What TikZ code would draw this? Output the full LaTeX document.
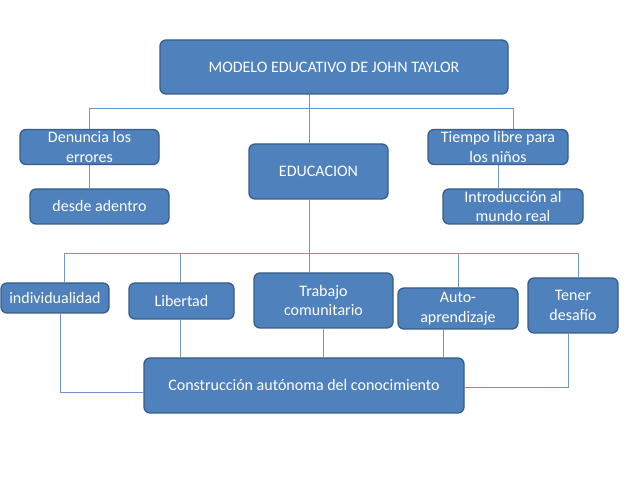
\documentclass[tikz,border=0pt]{standalone}
\usepackage{fontspec}
\setmainfont{Carlito}
\definecolor{boxfill}{HTML}{4F81BD}
\definecolor{boxline}{HTML}{385D8A}
\definecolor{connc}{HTML}{7096C8}
\pgfdeclarelayer{bg}
\pgfsetlayers{bg,main}
\begin{document}
\begin{tikzpicture}[x=1pt,y=-1pt,
  box/.style={draw=boxline, fill=boxfill, line width=1.3pt, rounded corners=6pt,
    text=white, font=\fontsize{16}{19.5}\selectfont, align=center, inner sep=0pt},
  conn/.style={draw=connc, line width=1pt}]
\useasboundingbox (0,0) rectangle (638,478);
% nodes
\node[box, minimum width=348pt, minimum height=54pt] (mod) at (334,67) {MODELO EDUCATIVO DE JOHN TAYLOR};
\node[box, minimum width=139pt, minimum height=35pt] (den) at (89.5,147) {Denuncia los\\errores};
\node[box, minimum width=139pt, minimum height=35pt] (des) at (99.5,206.5) {desde adentro};
\node[box, minimum width=139pt, minimum height=55pt] (edu) at (318.5,171.5) {EDUCACION};
\node[box, minimum width=140pt, minimum height=35pt] (tie) at (498,147) {Tiempo libre para\\los niños};
\node[box, minimum width=140pt, minimum height=35pt] (intro) at (513,206.5) {Introducción al\\mundo real};
\node[box, minimum width=108pt, minimum height=30pt] (ind) at (55,298) {individualidad};
\node[box, minimum width=105pt, minimum height=36pt] (lib) at (181.5,301) {Libertad};
\node[box, minimum width=139pt, minimum height=55pt] (tra) at (323.5,300.5) {Trabajo\\comunitario};
\node[box, minimum width=120pt, minimum height=41pt] (aut) at (458,308.5) {Auto-\\aprendizaje};
\node[box, minimum width=90pt, minimum height=55pt] (ten) at (573,305.5) {Tener\\desafío};
\node[box, minimum width=320pt, minimum height=55pt] (con) at (304,385.5) {Construcción autónoma del conocimiento};
% bus / bend coordinates
\coordinate (tl) at (89,109);
\coordinate (tm) at (309,109);
\coordinate (tr) at (513,109);
\coordinate (bl) at (64,254);
\coordinate (b2) at (180,254);
\coordinate (bm) at (309,254);
\coordinate (b4) at (458,254);
\coordinate (br) at (578,254);
\coordinate (c1) at (60,393);
\coordinate (c2) at (180,340);
\coordinate (c3) at (323,340);
\coordinate (c4) at (443,340);
\coordinate (c5) at (568,388);
% connectors
\begin{pgfonlayer}{bg}
\fill[white] (0,0) rectangle (638,478);
\draw[conn] (mod.south -| tm) -- (edu.north -| tm);
\draw[conn] (den.north) -- (den.north |- tl) -- (tr) -- (tie.north -| tr);
\draw[conn] (den.south) -- (des.north -| den.south);
\draw[conn] (tie.south) -- (intro.north -| tie.south);
\draw[conn] (edu.south -| bm) -- (tra.north -| bm);
\draw[conn] (ind.north -| bl) -- (bl) -- (br) -- (ten.north -| br);
\draw[conn] (lib.north -| b2) -- (b2);
\draw[conn] (aut.north -| b4) -- (b4);
\draw[conn] (ind.south -| c1) |- (con.west |- c1);
\draw[conn] (lib.south -| c2) -- (con.north -| c2);
\draw[conn] (tra.south -| c3) -- (con.north -| c3);
\draw[conn] (aut.south -| c4) -- (con.north -| c4);
\draw[conn] (ten.south -| c5) |- (con.east |- c5);
\end{pgfonlayer}
\end{tikzpicture}
\end{document}
